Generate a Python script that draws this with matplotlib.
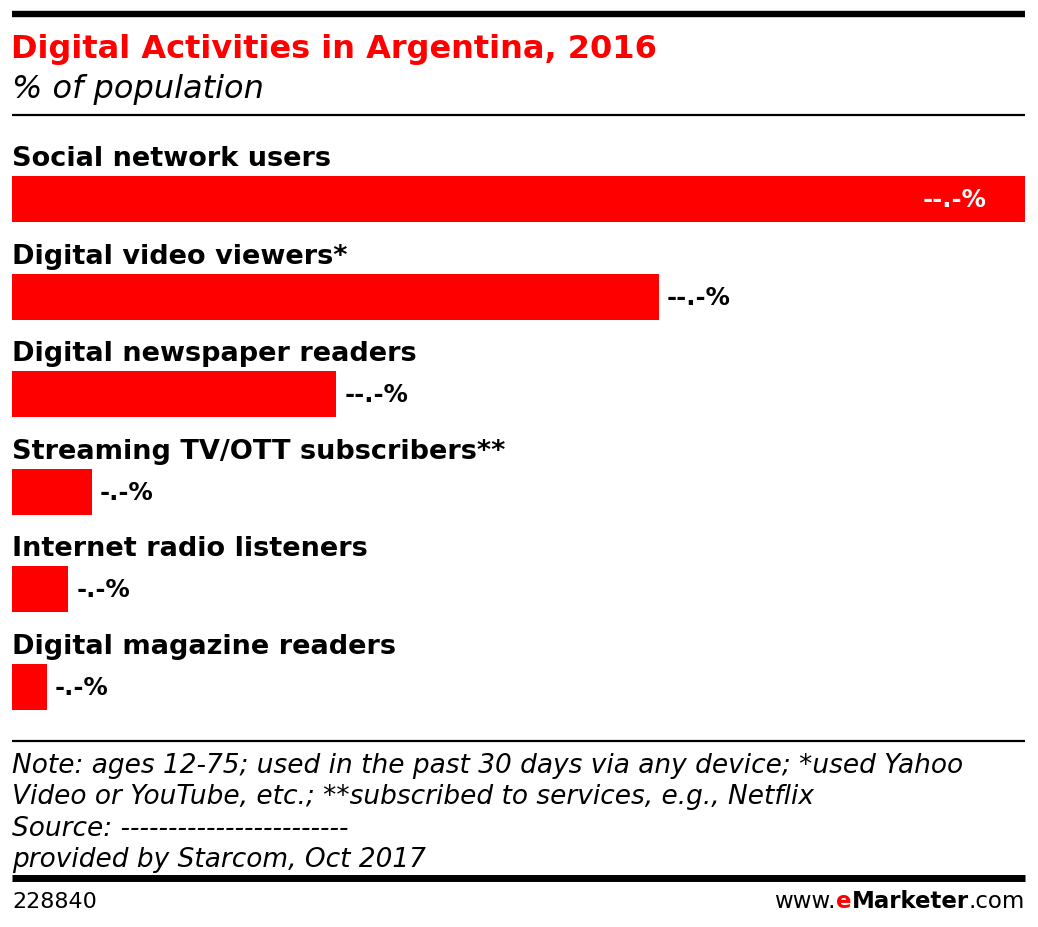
import matplotlib
matplotlib.use("Agg")
import matplotlib.pyplot as plt
from matplotlib.lines import Line2D

# data (values are masked in the source; bar lengths)
categories = ["Social network users", "Digital video viewers*",
              "Digital newspaper readers", "Streaming TV/OTT subscribers**",
              "Internet radio listeners", "Digital magazine readers"]
values = [70.0, 44.7, 22.4, 5.5, 3.9, 2.4]
value_labels = ["--.-%", "--.-%", "--.-%", "-.-%", "-.-%", "-.-%"]

title = "Digital Activities in Argentina, 2016"
subtitle = "% of population"
notes = ["Note: ages 12-75; used in the past 30 days via any device; *used Yahoo",
         "Video or YouTube, etc.; **subscribed to services, e.g., Netflix",
         "Source: ------------------------",
         "provided by Starcom, Oct 2017"]
chart_id = "228840"

RED = "#ff0000"
W, H = 1038, 928

fig = plt.figure(figsize=(W / 100, H / 100), dpi=100)


def fx(x):
    return x / W


def fy(y):
    return 1 - y / H


def hline(y, lw):
    fig.add_artist(Line2D([fx(12), fx(1025)], [fy(y), fy(y)], color="black",
                          linewidth=lw, solid_capstyle="butt"))


hline(15, 4.6)
hline(115.5, 1.6)
hline(741.5, 1.6)
hline(879, 5.0)

fig.text(fx(11), fy(58), title, color=RED, fontsize=23, fontweight="bold",
         va="baseline")
fig.text(fx(12), fy(98), subtitle, fontsize=23, style="italic", va="baseline")

for i, line in enumerate(notes):
    fig.text(fx(12), fy(773 + i * 31.3), line, fontsize=19, style="italic",
             va="baseline")

fig.text(fx(12), fy(908), chart_id, fontsize=16, va="baseline")

# eMarketer logo, built right to left
prev = fig.text(fx(1025), fy(908), ".com", fontsize=16.5, ha="right", va="baseline")
for txt, kw in [("Marketer", dict(fontweight="bold")),
                ("e", dict(fontweight="bold", color=RED)),
                ("www.", dict())]:
    prev = fig.add_artist(plt.Annotation(txt, xy=(0, 0), xycoords=prev,
                                         ha="right", va="bottom", fontsize=16.5,
                                         **kw))

# bars
ax = fig.add_axes([fx(12), fy(725), fx(1025) - fx(12), (725 - 130) / H])
y = list(range(len(categories)))
ax.barh(y, values, height=0.47, color=RED)
ax.set_xlim(0, max(values))
ax.set_ylim(5 + 37 / 97.6, -70 / 97.6)
ax.axis("off")

for i, (cat, v, lab) in enumerate(zip(categories, values, value_labels)):
    ax.text(0, i - 0.348, cat, fontsize=19.5, fontweight="bold",
            va="baseline", ha="left")
    if v >= max(values):
        ax.annotate(lab, xy=(v, i), xytext=(-27.4, 0), textcoords="offset points",
                    ha="right", va="center", color="white", fontsize=17.5,
                    fontweight="bold")
    else:
        ax.annotate(lab, xy=(v, i), xytext=(5.8, 0), textcoords="offset points",
                    ha="left", va="center", color="black", fontsize=17.5,
                    fontweight="bold")

fig.savefig("out.png", dpi=100)
